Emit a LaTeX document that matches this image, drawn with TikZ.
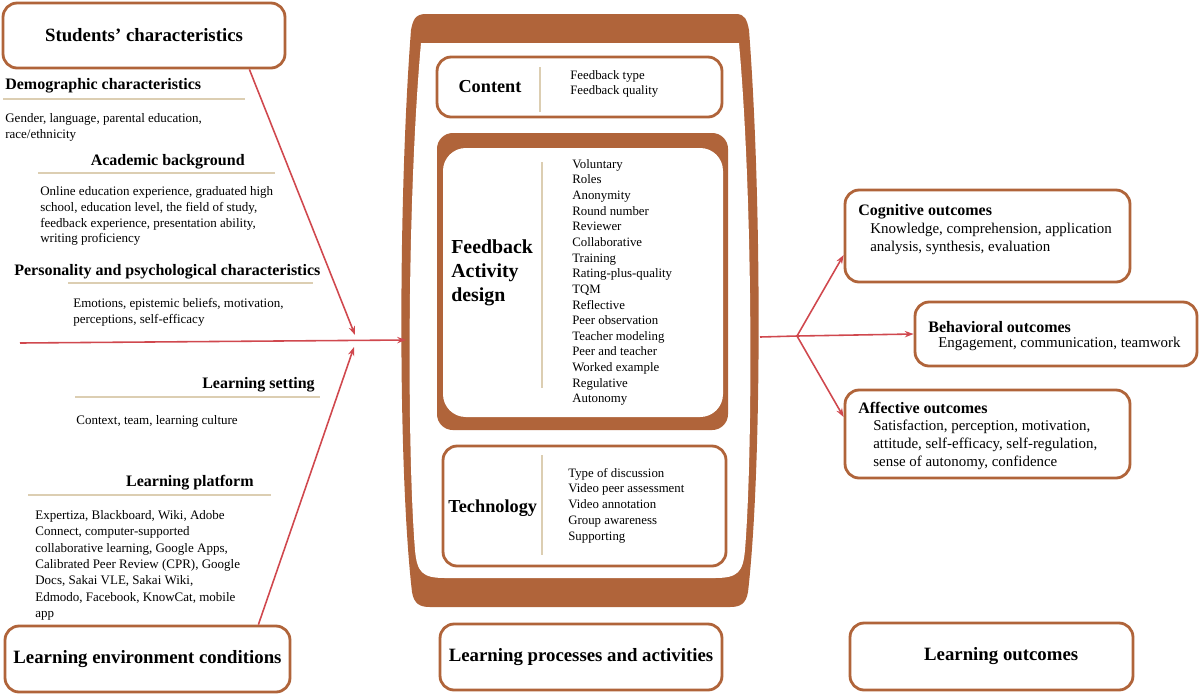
\documentclass[tikz,border=0pt]{standalone}
\usepackage{fontspec}
\setmainfont{Liberation Serif}
\usepackage{xcolor}
\usetikzlibrary{arrows.meta,positioning}

\definecolor{brn}{RGB}{176,100,58}
\definecolor{arrred}{RGB}{208,72,78}
\definecolor{rulecol}{RGB}{220,206,178}

\begin{document}
\begin{tikzpicture}[
  x=0.02cm, y=-0.02cm,
  box/.style={draw=brn, line width=1.6pt, rounded corners=8pt, fill=white, inner sep=0pt},
  title/.style={font=\fontsize{10.7}{13}\selectfont\bfseries},
  head/.style={font=\fontsize{9.1}{11}\selectfont\bfseries, inner sep=0pt},
  mid/.style={font=\fontsize{10.4}{12}\selectfont\bfseries, inner sep=0pt},
  body/.style={font=\fontsize{7.4}{9}\selectfont, align=left, inner sep=0pt, anchor=west},
  obody/.style={font=\fontsize{8.5}{10.2}\selectfont, align=left, inner sep=0pt, anchor=west},
  rulel/.style={draw=rulecol, line width=1.2pt},
  arr/.style={draw=arrred, line width=0.9pt, -{Stealth[length=5pt,width=3.6pt]}},
]
\useasboundingbox (0,0) rectangle (1200,694);

% students / environment (left)
\node[box, title, minimum width=5.64cm, minimum height=1.3cm] (stud) at (144,35.5) {Students’ characteristics};

\node[head, anchor=west] (demoh) at (5,86) {Demographic characteristics};
\draw[rulel] (3,99) -- (245,99);
\node[body] (demob) at (5,127.5) {Gender, language, parental education,\\race/ethnicity};

\node[head, anchor=east] (acadh) at (245,162) {Academic background};
\draw[rulel] (38,173) -- (275,173);
\node[body] (acadb) at (40,216) {Online education experience, graduated high\\school, education level, the field of study,\\feedback experience, presentation ability,\\writing proficiency};

\node[head, anchor=west] (persh) at (14,272) {Personality and psychological characteristics};
\draw[rulel] (68,283) -- (313,283);
\node[body] (persb) at (73,312) {Emotions, epistemic beliefs, motivation,\\perceptions, self-efficacy};

\node[head, anchor=east] (seth) at (315,385) {Learning setting};
\draw[rulel] (75,397) -- (320,397);
\node[body] (setb) at (76,421) {Context, team, learning culture};

\node[head, anchor=east] (plath) at (254,483) {Learning platform};
\draw[rulel] (28,495) -- (271,495);
\node[body, font=\fontsize{7.4}{9.3}\selectfont] (platb) at (35,565.5) {Expertiza, Blackboard, Wiki, Adobe\\Connect, computer-supported\\collaborative learning, Google Apps,\\Calibrated Peer Review (CPR), Google\\Docs, Sakai VLE, Sakai Wiki,\\Edmodo, Facebook, KnowCat, mobile\\app};

\node[box, title, minimum width=5.7cm, minimum height=1.32cm] (envcond) at (147.5,659) {Learning environment conditions};

% processes (centre)
\fill[brn] (426,14) -- (736,14) .. controls (745,14) and (747,20) .. (749,30)
  .. controls (762,200) and (762,470) .. (748,592) .. controls (746,604) and (740,607) .. (730,607)
  -- (430,607) .. controls (420,607) and (414,604) .. (412,592)
  .. controls (398,470) and (398,200) .. (411,30) .. controls (413,20) and (415,14) .. (426,14) -- cycle;
\fill[white] (421,43) -- (739,43) .. controls (753,200) and (753,450) .. (745,550)
  .. controls (743,572) and (738,578) .. (715,578) -- (445,578)
  .. controls (422,578) and (417,572) .. (415,550) .. controls (407,450) and (407,200) .. (421,43) -- cycle;

\node[box, minimum width=5.7cm, minimum height=1.2cm] (content) at (579.5,87) {};
\node[mid] (contt) at (490,87) {Content};
\draw[rulel] (540,67) -- (540,112);
\node[body, font=\fontsize{7.3}{9}\selectfont] (contb) at (570,84) {Feedback type\\Feedback quality};

\fill[brn, rounded corners=9pt] (437,133) rectangle (728,430);
\fill[white, rounded corners=13pt] (443,148) rectangle (723,417);
\node[font=\fontsize{11.3}{13.6}\selectfont\bfseries, align=left, inner sep=0pt, anchor=west] (fadt) at (451,273) {Feedback\\Activity\\design};
\draw[rulel] (542,162) -- (542,388);
\node[body, font=\fontsize{7.3}{8.9}\selectfont] (fadb) at (572,282.5) {Voluntary\\Roles\\Anonymity\\Round number\\Reviewer\\Collaborative\\Training\\Rating-plus-quality\\TQM\\Reflective\\Peer observation\\Teacher modeling\\Peer and teacher\\Worked example\\Regulative\\Autonomy};

\node[box, minimum width=5.66cm, minimum height=2.4cm] (tech) at (584.5,506) {};
\node[mid, anchor=west] (techt) at (448,508) {Technology};
\draw[rulel] (542,455) -- (542,555);
\node[body, font=\fontsize{7.3}{9}\selectfont] (techb) at (568,505.5) {Type of discussion\\Video peer assessment\\Video annotation\\Group awareness\\Supporting};

\node[box, title, minimum width=5.64cm, minimum height=1.32cm] (lpa) at (581,657) {Learning processes and activities};

% outcomes (right)
\node[box, minimum width=5.7cm, minimum height=1.84cm] (cog) at (987.5,236) {};
\node[head, anchor=west] (cogh) at (858,212) {Cognitive outcomes};
\node[obody] (cogb) at (870,239) {Knowledge, comprehension, application\\analysis, synthesis, evaluation};

\node[box, minimum width=5.64cm, minimum height=1.28cm] (beh) at (1056,334) {};
\node[head, anchor=west] (behh) at (928,327) {Behavioral outcomes};
\node[obody] (behb) at (938,344) {Engagement, communication, teamwork};

\node[box, minimum width=5.7cm, minimum height=1.76cm] (aff) at (987.5,434) {};
\node[head, anchor=west] (affh) at (858,408) {Affective outcomes};
\node[obody] (affb) at (873,445) {Satisfaction, perception, motivation,\\attitude, self-efficacy, self-regulation,\\sense of autonomy, confidence};

\node[box, title, minimum width=5.66cm, minimum height=1.34cm] (lout) at (991.5,656.5) {\hspace*{11pt}Learning outcomes};

% connectors
\coordinate (jtop) at (355,335);
\coordinate (jbot) at (354,347);
\coordinate (hstart) at (20,343);
\coordinate (procin) at (406,340);
\coordinate (procout) at (760,337);
\coordinate (fork) at (797,336);

\draw[arr] ([xshift=-0.74cm]stud.south east) -- (jtop);
\draw[arr] ([xshift=-0.66cm]envcond.north east) -- (jbot);
\draw[arr] (hstart) -- (procin);

\draw[draw=arrred, line width=0.9pt] (procout) -- (fork);
\draw[arr] (fork) -- ([yshift=-0.38cm]cog.west);
\draw[arr] (fork) -- (beh.west);
\draw[arr] (fork) -- ([yshift=0.34cm]aff.west);
\end{tikzpicture}
\end{document}
